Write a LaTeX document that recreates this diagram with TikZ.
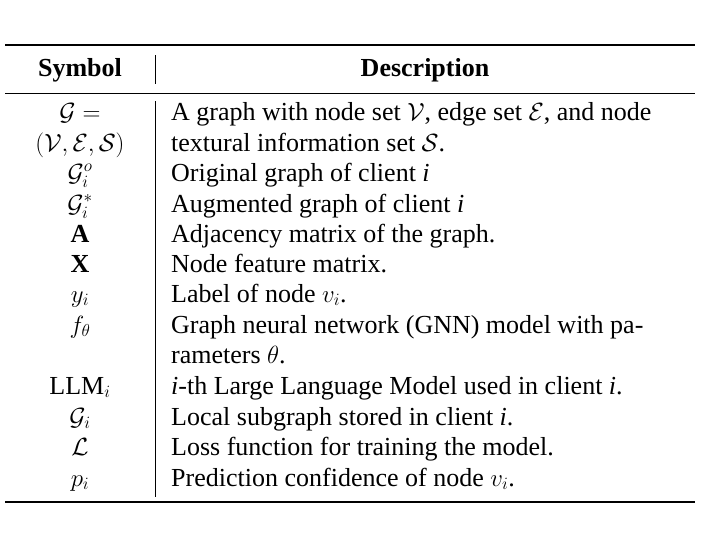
\documentclass[tikz,border=0pt]{standalone}
\usepackage{fontspec}
\setmainfont{Liberation Serif}
\begin{document}
\begin{tikzpicture}[x=1pt,y=-1pt,
  sym/.style={anchor=center,font=\fontsize{26}{30}\selectfont,inner sep=0pt,text height=13pt,text depth=3pt},
  desc/.style={anchor=west,font=\fontsize{26}{30}\selectfont,inner sep=0pt,text height=13pt,text depth=3pt},
  hdr/.style={anchor=center,font=\fontsize{26}{30}\selectfont\bfseries,inner sep=0pt}]
\useasboundingbox (0,0) rectangle (701,533);
\draw[line width=1.2pt] (5,45) -- (695,45);
\draw[line width=0.6pt] (5,93) -- (695,93);
\draw[line width=1.2pt] (5,502) -- (695,502);
\draw[line width=0.5pt] (155,55) -- (155,84);
\draw[line width=0.5pt] (155,101) -- (155,497);
\node[hdr] (hs) at (80,70) {Symbol};
\node[hdr] (hd) at (425,70) {Description};
\node[sym] (s1) at (80,115) {$\mathcal{G}=$};
\node[sym] (s1b) at (80,146) {$(\mathcal{V},\mathcal{E},\mathcal{S})$};
\node[sym] (s2) at (80,176) {$\mathcal{G}_i^o$};
\node[sym] (s3) at (80,207) {$\mathcal{G}_i^*$};
\node[sym] (s4) at (80,237) {$\mathbf{A}$};
\node[sym] (s5) at (80,267) {$\mathbf{X}$};
\node[sym] (s6) at (80,297) {$y_i$};
\node[sym] (s7) at (80,328) {$f_\theta$};
\node[sym] (s8) at (80,389) {LLM$_i$};
\node[sym] (s9) at (80,420) {$\mathcal{G}_i$};
\node[sym] (s10) at (80,450) {$\mathcal{L}$};
\node[sym] (s11) at (80,481) {$p_i$};
\node[desc] (d1) at (171,115) {A graph with node set $\mathcal{V}$, edge set $\mathcal{E}$, and node};
\node[desc] (d1b) at (171,146) {textural information set $\mathcal{S}$.};
\node[desc] (d2) at (171,176) {Original graph of client \textit{i}};
\node[desc] (d3) at (171,207) {Augmented graph of client \textit{i}};
\node[desc] (d4) at (171,237) {Adjacency matrix of the graph.};
\node[desc] (d5) at (171,267) {Node feature matrix.};
\node[desc] (d6) at (171,297) {Label of node $v_i$.};
\node[desc] (d7) at (171,328) {Graph neural network (GNN) model with pa-};
\node[desc] (d7b) at (171,358) {rameters $\theta$.};
\node[desc] (d8) at (171,389) {\textit{i}-th Large Language Model used in client \textit{i}.};
\node[desc] (d9) at (171,420) {Local subgraph stored in client \textit{i}.};
\node[desc] (d10) at (171,450) {Loss function for training the model.};
\node[desc] (d11) at (171,481) {Prediction confidence of node $v_i$.};
\end{tikzpicture}
\end{document}
